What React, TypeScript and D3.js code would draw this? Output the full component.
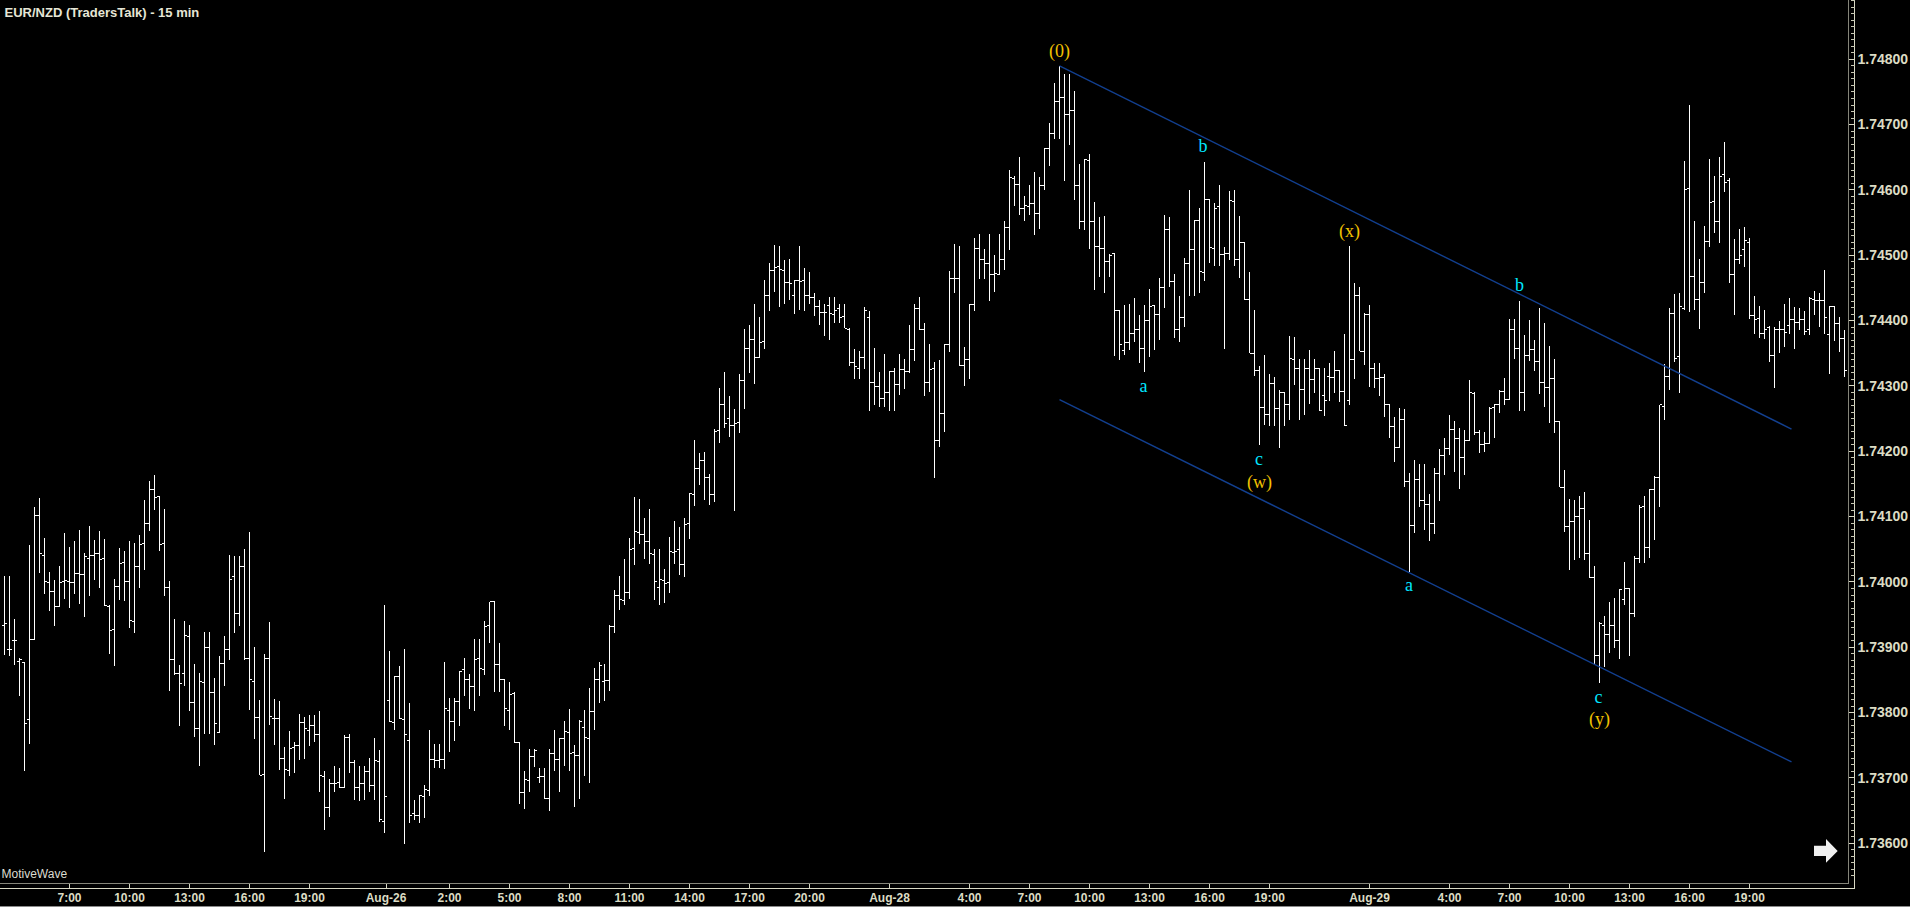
import React from "react";
import * as d3 from "d3";

// Prices are stored as 1e-5 units above 1.7 (4321 = 1.74321), one entry per 15-minute bar.
const highPips = [
4009,4009,3943,3883,3878,4057,4115,4129,4067,4015,
4003,4024,4075,4054,4063,4080,4044,4086,4064,4078,
4066,3964,4005,4052,4048,4063,4059,4072,4125,4155,
4164,4132,4111,4001,3943,3873,3941,3934,3875,3860,
3924,3924,3853,3886,3917,4041,4040,4039,4050,4076,
3900,3819,3890,3938,3821,3818,3747,3772,3755,3798,
3793,3796,3796,3802,3711,3698,3718,3716,3766,3767,
3728,3718,3718,3730,3761,3743,3965,3895,3856,3871,
3898,3815,3666,3674,3689,3773,3752,3752,3877,3823,
3822,3864,3884,3859,3913,3913,3941,3970,3970,3907,
3851,3847,3832,3754,3711,3744,3744,3715,3715,3745,
3773,3761,3787,3805,3750,3789,3804,3838,3869,3878,
3875,3934,3988,4009,4035,4067,4130,4127,4098,4112,
4050,4050,4020,4069,4093,4084,4098,4136,4217,4197,
4199,4165,4234,4297,4321,4285,4265,4318,4387,4393,
4425,4406,4462,4488,4516,4514,4493,4494,4462,4514,
4481,4474,4442,4432,4426,4436,4436,4425,4426,4388,
4357,4353,4421,4414,4358,4322,4349,4323,4328,4349,
4341,4393,4426,4436,4396,4364,4337,4340,4364,4476,
4517,4514,4359,4425,4526,4533,4509,4532,4500,4533,
4553,4631,4621,4651,4591,4607,4628,4620,4665,4703,
4763,4789,4778,4778,4751,4640,4647,4655,4582,4559,
4560,4502,4503,4416,4424,4426,4435,4409,4424,4448,
4424,4465,4562,4558,4472,4437,4496,4600,4554,4573,
4643,4585,4580,4608,4513,4598,4600,4560,4519,4475,
4416,4330,4348,4319,4313,4294,4291,4376,4375,4342,
4342,4355,4342,4327,4327,4335,4353,4324,4379,4514,
4457,4452,4411,4424,4335,4335,4319,4272,4253,4266,
4264,4167,4187,4181,4181,4135,4174,4203,4220,4255,
4246,4235,4232,4309,4291,4233,4230,4268,4273,4294,
4312,4403,4403,4430,4378,4401,4371,4419,4396,4361,
4342,4245,4171,4127,4125,4132,4137,4095,4025,3938,
3948,3969,3975,3989,4030,3990,4039,4118,4131,4143,
4162,4271,4334,4419,4441,4442,4644,4730,4552,4494,
4545,4648,4621,4650,4673,4618,4525,4541,4543,4526,
4438,4422,4416,4392,4390,4399,4425,4434,4421,4419,
4415,4436,4445,4442,4477,4423,4422,4405,4386,
];
const lowPips = [
3888,3886,3873,3826,3710,3752,3912,4014,3982,3956,
3933,3961,3974,3960,3982,3967,3947,3978,4003,3991,
3963,3890,3871,3973,3971,3929,3922,3991,4018,4078,
4110,4048,3978,3833,3858,3779,3841,3802,3763,3718,
3768,3767,3750,3770,3841,3881,3922,3933,3881,3804,
3760,3704,3586,3781,3750,3712,3668,3703,3708,3728,
3729,3749,3755,3678,3620,3641,3678,3684,3684,3707,
3666,3664,3666,3679,3666,3633,3616,3786,3773,3790,
3599,3631,3635,3631,3639,3673,3715,3715,3713,3739,
3757,3780,3825,3805,3802,3825,3858,3907,3831,3831,
3780,3773,3754,3660,3653,3678,3717,3692,3668,3649,
3711,3678,3718,3710,3655,3668,3703,3693,3773,3815,
3818,3833,3922,3957,3965,3974,4026,4058,4035,4027,
3972,3965,3968,3983,4027,4011,4008,4066,4116,4148,
4125,4118,4122,4213,4235,4222,4109,4228,4265,4320,
4303,4344,4357,4414,4444,4421,4425,4432,4410,4416,
4415,4426,4407,4393,4376,4370,4397,4397,4388,4331,
4311,4311,4326,4262,4271,4268,4268,4261,4261,4286,
4295,4320,4338,4386,4284,4291,4159,4206,4229,4352,
4442,4331,4300,4311,4414,4464,4464,4430,4444,4470,
4478,4508,4575,4561,4553,4562,4531,4540,4600,4637,
4678,4678,4614,4669,4584,4541,4539,4510,4447,4467,
4442,4467,4346,4339,4348,4355,4367,4335,4321,4345,
4355,4370,4420,4452,4373,4367,4391,4437,4437,4443,
4460,4488,4483,4483,4357,4493,4483,4465,4431,4350,
4315,4209,4240,4238,4238,4205,4239,4248,4301,4248,
4255,4272,4289,4261,4254,4277,4290,4276,4238,4271,
4311,4353,4332,4299,4297,4285,4252,4221,4184,4206,
4146,4016,4075,4114,4079,4062,4073,4124,4163,4194,
4169,4142,4163,4216,4225,4197,4199,4212,4221,4258,
4271,4279,4341,4261,4261,4338,4323,4287,4268,4243,
4228,4145,4076,4019,4034,4036,4033,4006,3873,3845,
3870,3891,3899,3882,3965,3886,3946,4029,4029,4036,
4065,4114,4248,4294,4337,4289,4416,4413,4416,4387,
4443,4512,4534,4519,4597,4458,4408,4487,4482,4402,
4379,4373,4372,4337,4297,4351,4360,4379,4356,4385,
4378,4378,4408,4391,4379,4319,4369,4352,4314,
];
const openPips = [
3933,3897,3911,3878,3876,3790,3912,4102,4041,3999,
3986,3962,4000,4001,3999,4013,4011,4036,4040,4043,
4036,3962,3927,3993,4030,4000,3939,4024,4059,4090,
4142,4131,4059,3992,3882,3860,3860,3917,3816,3776,
3846,3900,3831,3770,3875,3897,4008,3952,4023,3883,
3847,3792,3706,3883,3791,3791,3730,3712,3747,3749,
3785,3772,3781,3767,3702,3655,3691,3693,3686,3762,
3723,3686,3692,3710,3689,3725,3633,3819,3785,3855,
3790,3758,3646,3643,3672,3681,3728,3727,3728,3804,
3786,3817,3866,3851,3840,3883,3866,3933,3970,3873,
3851,3803,3829,3754,3678,3696,3733,3701,3702,3669,
3737,3729,3761,3770,3739,3734,3777,3761,3801,3851,
3847,3849,3932,3979,3972,3984,4051,4076,4073,4062,
4042,3992,4003,3999,4045,4050,4027,4090,4134,4174,
4186,4160,4134,4232,4272,4250,4240,4244,4308,4357,
4371,4344,4368,4439,4477,4483,4476,4459,4439,4461,
4461,4439,4436,4422,4413,4423,4410,4418,4406,4387,
4336,4327,4344,4405,4306,4299,4281,4290,4322,4303,
4325,4322,4356,4419,4386,4306,4327,4217,4258,4363,
4465,4464,4331,4340,4425,4511,4494,4488,4470,4471,
4494,4543,4618,4609,4571,4575,4580,4564,4607,4663,
4687,4736,4742,4716,4722,4607,4552,4645,4552,4513,
4511,4490,4502,4416,4355,4366,4380,4386,4358,4400,
4423,4410,4450,4540,4460,4387,4405,4488,4509,4554,
4474,4585,4511,4575,4501,4502,4582,4493,4519,4433,
4350,4324,4267,4257,4304,4266,4290,4272,4341,4327,
4294,4327,4310,4327,4286,4314,4313,4324,4292,4278,
4340,4439,4353,4410,4327,4312,4313,4271,4238,4206,
4249,4154,4086,4157,4125,4118,4089,4166,4193,4204,
4233,4220,4191,4216,4289,4229,4210,4212,4267,4271,
4291,4279,4387,4358,4290,4347,4356,4338,4305,4298,
4312,4245,4145,4085,4092,4100,4113,4044,4007,3888,
3934,3920,3934,3910,3973,3990,3952,4036,4115,4053,
4141,4160,4269,4315,4411,4345,4418,4602,4467,4432,
4459,4521,4583,4551,4623,4615,4471,4494,4509,4520,
4408,4403,4380,4389,4346,4387,4387,4393,4402,4397,
4401,4387,4432,4431,4431,4379,4422,4396,4373,
];
const closePips = [
3937,3897,3911,3882,3783,3912,4102,4044,4000,3986,
3962,3999,4002,3999,4013,4011,4039,4041,4043,4035,
3964,3926,3993,4029,4000,3941,4024,4058,4090,4142,
4129,4057,3992,3881,3860,3845,3918,3816,3775,3847,
3900,3831,3783,3875,3897,4004,3952,4023,3883,3850,
3792,3704,3883,3794,3791,3730,3713,3745,3749,3785,
3776,3781,3767,3704,3655,3691,3692,3685,3762,3723,
3686,3692,3710,3689,3727,3636,3671,3786,3855,3791,
3766,3643,3643,3673,3682,3729,3727,3729,3807,3786,
3817,3863,3851,3840,3881,3868,3932,3970,3873,3851,
3807,3827,3754,3678,3697,3733,3742,3703,3668,3738,
3729,3761,3771,3738,3734,3786,3762,3801,3850,3872,
3849,3932,3980,3973,3984,4050,4078,4073,4062,4044,
4001,4004,3998,4046,4046,4027,4088,4135,4174,4186,
4160,4134,4231,4272,4243,4239,4243,4308,4357,4371,
4344,4367,4439,4477,4482,4478,4459,4457,4461,4460,
4439,4436,4422,4413,4413,4411,4416,4405,4388,4336,
4330,4344,4416,4306,4299,4281,4290,4322,4303,4325,
4322,4356,4419,4386,4306,4325,4217,4258,4363,4465,
4464,4331,4340,4425,4511,4494,4488,4470,4472,4494,
4543,4619,4608,4571,4576,4580,4564,4607,4663,4687,
4736,4742,4716,4722,4607,4552,4647,4552,4513,4511,
4490,4499,4416,4363,4367,4380,4386,4358,4400,4422,
4410,4450,4540,4460,4387,4405,4488,4509,4554,4475,
4585,4512,4572,4501,4502,4584,4493,4519,4432,4350,
4324,4267,4257,4304,4266,4290,4272,4342,4327,4295,
4327,4310,4327,4262,4278,4313,4324,4292,4239,4340,
4439,4353,4410,4327,4312,4313,4271,4238,4206,4249,
4154,4086,4157,4125,4118,4089,4166,4193,4204,4233,
4220,4191,4216,4290,4229,4210,4212,4266,4271,4291,
4279,4387,4358,4290,4347,4356,4338,4305,4298,4312,
4245,4145,4085,4092,4100,4113,4044,4007,3888,3937,
3920,3934,3910,3988,3990,3952,4036,4114,4053,4141,
4160,4271,4315,4411,4342,4421,4601,4467,4432,4459,
4521,4581,4551,4621,4611,4470,4494,4500,4522,4408,
4402,4381,4387,4347,4387,4387,4382,4402,4397,4401,
4383,4434,4431,4431,4405,4421,4396,4373,4323,
];

const timeLabels = ["7:00","10:00","13:00","16:00","19:00","Aug-26","2:00","5:00","8:00","11:00","14:00","17:00","20:00","Aug-28","4:00","7:00","10:00","13:00","16:00","19:00","Aug-29","4:00","7:00","10:00","13:00","16:00","19:00"];
const timeBars = [13,25,37,49,61,76.3,89,101,113,125,137,149,161,177,193,205,217,229,241,253,273,289,301,313,325,337,349];

const priceTicks = [1.748,1.747,1.746,1.745,1.744,1.743,1.742,1.741,1.74,1.739,1.738,1.737,1.736];

const waveTexts = ["(0)","b","a","b","(x)","c","(w)","a","c","(y)"];
const waveBars = [211,239.7,227.8,303,269,250.9,251,280.9,318.8,319];
const wavePips = [4803,4658,4291,4446,4528,4179,4144,3986,3815,3781];
const waveMajor = [true,false,false,false,true,false,true,false,false,true];

const channelBars = [211,357.4];
const channelUpper = [4790,4234];
const channelLower = [4279,3724.5];

const toPrice = (p: number) => 1.7 + p / 1e5;

const x = d3.scaleLinear().domain([0, 368]).range([4.5, 1844.5]);
const y = d3.scaleLinear().domain([1.748, 1.736]).range([59.3, 843.3]);

const AXIS_X_INNER = 1848.5;
const AXIS_X_OUTER = 1854.5;
const AXIS_Y_INNER = 883.5;
const AXIS_Y_OUTER = 888.5;

const minorTicks = d3.range(0, 140).map((i) => 1.7355 + i * 0.0001).filter((v) => y(v) < AXIS_Y_INNER && y(v) > 0);

const snap = (v: number) => Math.round(v - 0.5) + 0.5;
const LABEL = "#dcdcc4";
const AXIS_FONT = "'Liberation Sans', Arial, sans-serif";
const channelLine = d3.line<number>().x((_, i) => x(channelBars[i])).y((p) => y(toPrice(p)));

export default function App() {
  return (
    <svg width={1910} height={907} style={{ position: "fixed", left: 0, top: 0, background: "#000", display: "block" }}>
      <rect x={0} y={0} width={1910} height={907} fill="#000" />
      <g stroke="#fff" strokeWidth={1} shapeRendering="crispEdges">
        {highPips.map((h, i) => {
          const cx = x(i);
          return (
            <g key={i}>
              <line x1={cx} x2={cx} y1={y(toPrice(h))} y2={y(toPrice(lowPips[i]))} />
              <line x1={cx - 2.5} x2={cx} y1={snap(y(toPrice(openPips[i])))} y2={snap(y(toPrice(openPips[i])))} />
              <line x1={cx} x2={cx + 2.5} y1={snap(y(toPrice(closePips[i])))} y2={snap(y(toPrice(closePips[i])))} />
            </g>
          );
        })}
      </g>
      <g fill="none" stroke="#123f8f" strokeWidth={1.4}>
        <path d={channelLine(channelUpper) || ""} />
        <path d={channelLine(channelLower) || ""} />
      </g>
      <g fontFamily="'Liberation Serif', serif" fontSize={18} textAnchor="middle">
        {waveTexts.map((t, i) => (
          <text key={i} x={x(waveBars[i])} y={y(toPrice(wavePips[i]))} fill={waveMajor[i] ? "#f2c200" : "#00e6ff"}>{t}</text>
        ))}
      </g>
      <g shapeRendering="crispEdges">
        <line x1={AXIS_X_INNER} x2={AXIS_X_INNER} y1={0} y2={AXIS_Y_INNER} stroke="#85857a" />
        <line x1={0} x2={AXIS_X_INNER} y1={AXIS_Y_INNER} y2={AXIS_Y_INNER} stroke="#85857a" />
        <line x1={AXIS_X_OUTER} x2={AXIS_X_OUTER} y1={0} y2={AXIS_Y_OUTER} stroke="#d8d8c4" />
        <line x1={0} x2={AXIS_X_OUTER} y1={AXIS_Y_OUTER} y2={AXIS_Y_OUTER} stroke="#d8d8c4" />
        <line x1={0} x2={1910} y1={906} y2={906} stroke="#8a8a8a" />
        {minorTicks.map((v, i) => (
          <line key={i} x1={AXIS_X_OUTER - 4} x2={AXIS_X_OUTER} y1={snap(y(v))} y2={snap(y(v))} stroke="#c8c8b4" />
        ))}
        {priceTicks.map((v, i) => (
          <line key={i} x1={AXIS_X_INNER} x2={AXIS_X_OUTER} y1={snap(y(v))} y2={snap(y(v))} stroke="#d8d8c4" />
        ))}
        {timeBars.map((b, i) => (
          <line key={i} x1={snap(x(b))} x2={snap(x(b))} y1={AXIS_Y_INNER} y2={AXIS_Y_OUTER} stroke="#d8d8c4" />
        ))}
      </g>
      <g fontFamily={AXIS_FONT} fontWeight="bold" fontSize={14} fill={LABEL}>
        {priceTicks.map((v, i) => (
          <text key={i} x={1857.5} y={y(v) + 4.8}>{d3.format(".5f")(v)}</text>
        ))}
      </g>
      <g fontFamily={AXIS_FONT} fontWeight="bold" fontSize={12} fill={LABEL} textAnchor="middle">
        {timeLabels.map((t, i) => (
          <text key={i} x={x(timeBars[i])} y={902}>{t}</text>
        ))}
      </g>
      <text x={4.5} y={17} fontFamily={AXIS_FONT} fontWeight="bold" fontSize={13} fill="#e6e6d6">EUR/NZD (TradersTalk) - 15 min</text>
      <text x={1.5} y={878} fontFamily={AXIS_FONT} fontSize={12} fill="#dcdcd0">MotiveWave</text>
      <polygon points="1814,845.7 1826,845.7 1826,839 1837.7,851 1826,862.7 1826,856 1814,856" fill="#f0f0f0" />
    </svg>
  );
}
